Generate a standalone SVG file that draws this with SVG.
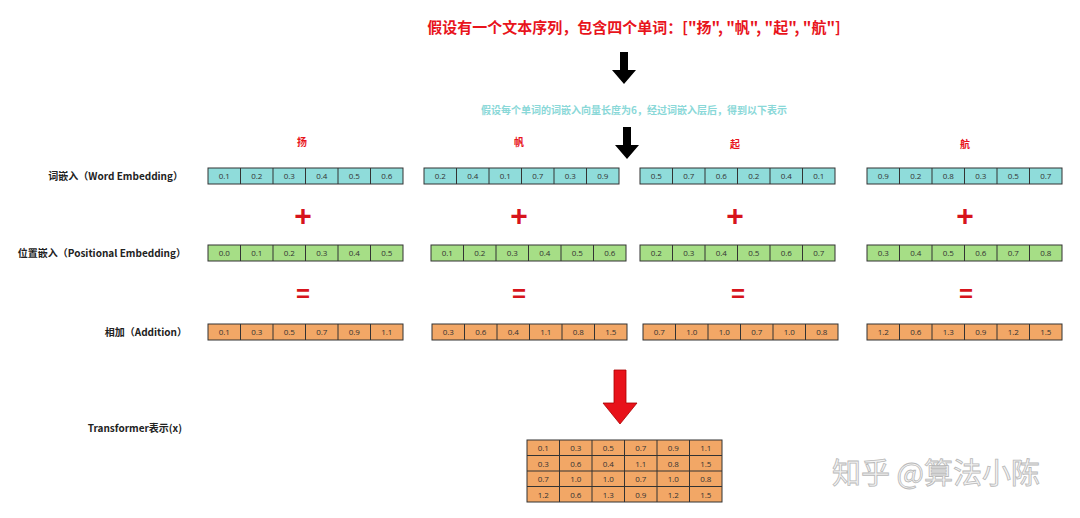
<svg xmlns="http://www.w3.org/2000/svg" width="1080" height="518" viewBox="0 0 1080 518">
<style>
.c{stroke:#333;stroke-width:1}
.b{fill:#8fdcda}.g{fill:#a6de86}.o{fill:#f2a766}
.v{font-family:"Open Sans","Noto Sans",sans-serif;font-size:8px;fill:#333;text-anchor:middle}
.lab{font-family:"Noto Sans CJK SC",sans-serif;font-size:10px;font-weight:bold;fill:#222;text-anchor:end}
.w{font-family:"Noto Sans CJK SC",sans-serif;font-size:10px;font-weight:bold;fill:#e8141c;text-anchor:middle}
.op{font-family:"Liberation Sans",sans-serif;font-weight:bold;fill:#d7141c;text-anchor:middle}
</style>
<defs>
<g id="grid"><path class="c" d="M32.5 0V16M65 0V16M97.5 0V16M130 0V16M162.5 0V16" fill="none"/></g>
</defs>
<rect width="1080" height="518" fill="#fff"/>
<text x="634" y="33" font-family="Noto Sans CJK SC,sans-serif" font-size="15" font-weight="bold" fill="#e8141c" text-anchor="middle">假设有一个文本序列，包含四个单词：["扬", "帆", "起", "航"]</text>
<text x="634" y="114" font-family="Noto Sans CJK SC,sans-serif" font-size="10" font-weight="bold" fill="#8ad8d8" text-anchor="middle">假设每个单词的词嵌入向量长度为6，经过词嵌入层后，得到以下表示</text>
<g id="connectors">
<path d="M620 52h8v18h8l-12 14l-12-14h8z" fill="#000"/>
<path d="M623 127h8v18h8l-12 14l-12-14h8z" fill="#000"/>
<path d="M614 370h12v33h11l-17 21l-17-21h11z" fill="#e8121a" stroke="#a00" stroke-width="0.8"/>
</g>
<g id="labels">
<text class="lab" x="183" y="180">词嵌入（Word Embedding）</text>
<text class="lab" x="186" y="257">位置嵌入（Positional Embedding）</text>
<text class="lab" x="187" y="336">相加（Addition）</text>
<text class="lab" x="182" y="432">Transformer表示(x)</text>
<text class="w" x="302" y="146">扬</text>
<text class="w" x="519" y="146">帆</text>
<text class="w" x="735" y="148">起</text>
<text class="w" x="965" y="148">航</text>
</g>
<g id="ops">
<g class="op" font-size="30"><text x="303" y="226">+</text><text x="519" y="226">+</text><text x="735" y="226">+</text><text x="965" y="226">+</text></g>
<g class="op" font-size="24"><text x="303" y="302">=</text><text x="519" y="302">=</text><text x="738" y="302">=</text><text x="966" y="302">=</text></g>
</g>
<g id="word-embedding">
<g transform="translate(208,168)"><rect class="c b" width="195" height="16"/><use href="#grid"/><g class="v"><text x="16.25" y="11">0.1</text><text x="48.75" y="11">0.2</text><text x="81.25" y="11">0.3</text><text x="113.75" y="11">0.4</text><text x="146.25" y="11">0.5</text><text x="178.75" y="11">0.6</text></g></g>
<g transform="translate(424,168)"><rect class="c b" width="195" height="16"/><use href="#grid"/><g class="v"><text x="16.25" y="11">0.2</text><text x="48.75" y="11">0.4</text><text x="81.25" y="11">0.1</text><text x="113.75" y="11">0.7</text><text x="146.25" y="11">0.3</text><text x="178.75" y="11">0.9</text></g></g>
<g transform="translate(640,168)"><rect class="c b" width="195" height="16"/><use href="#grid"/><g class="v"><text x="16.25" y="11">0.5</text><text x="48.75" y="11">0.7</text><text x="81.25" y="11">0.6</text><text x="113.75" y="11">0.2</text><text x="146.25" y="11">0.4</text><text x="178.75" y="11">0.1</text></g></g>
<g transform="translate(867,168)"><rect class="c b" width="195" height="16"/><use href="#grid"/><g class="v"><text x="16.25" y="11">0.9</text><text x="48.75" y="11">0.2</text><text x="81.25" y="11">0.8</text><text x="113.75" y="11">0.3</text><text x="146.25" y="11">0.5</text><text x="178.75" y="11">0.7</text></g></g>
</g>
<g id="positional-embedding">
<g transform="translate(208,245)"><rect class="c g" width="195" height="16"/><use href="#grid"/><g class="v"><text x="16.25" y="11">0.0</text><text x="48.75" y="11">0.1</text><text x="81.25" y="11">0.2</text><text x="113.75" y="11">0.3</text><text x="146.25" y="11">0.4</text><text x="178.75" y="11">0.5</text></g></g>
<g transform="translate(431,245)"><rect class="c g" width="195" height="16"/><use href="#grid"/><g class="v"><text x="16.25" y="11">0.1</text><text x="48.75" y="11">0.2</text><text x="81.25" y="11">0.3</text><text x="113.75" y="11">0.4</text><text x="146.25" y="11">0.5</text><text x="178.75" y="11">0.6</text></g></g>
<g transform="translate(640,245)"><rect class="c g" width="195" height="16"/><use href="#grid"/><g class="v"><text x="16.25" y="11">0.2</text><text x="48.75" y="11">0.3</text><text x="81.25" y="11">0.4</text><text x="113.75" y="11">0.5</text><text x="146.25" y="11">0.6</text><text x="178.75" y="11">0.7</text></g></g>
<g transform="translate(867,245)"><rect class="c g" width="195" height="16"/><use href="#grid"/><g class="v"><text x="16.25" y="11">0.3</text><text x="48.75" y="11">0.4</text><text x="81.25" y="11">0.5</text><text x="113.75" y="11">0.6</text><text x="146.25" y="11">0.7</text><text x="178.75" y="11">0.8</text></g></g>
</g>
<g id="addition">
<g transform="translate(208,324)"><rect class="c o" width="195" height="16"/><use href="#grid"/><g class="v"><text x="16.25" y="11">0.1</text><text x="48.75" y="11">0.3</text><text x="81.25" y="11">0.5</text><text x="113.75" y="11">0.7</text><text x="146.25" y="11">0.9</text><text x="178.75" y="11">1.1</text></g></g>
<g transform="translate(432,324)"><rect class="c o" width="195" height="16"/><use href="#grid"/><g class="v"><text x="16.25" y="11">0.3</text><text x="48.75" y="11">0.6</text><text x="81.25" y="11">0.4</text><text x="113.75" y="11">1.1</text><text x="146.25" y="11">0.8</text><text x="178.75" y="11">1.5</text></g></g>
<g transform="translate(643,324)"><rect class="c o" width="195" height="16"/><use href="#grid"/><g class="v"><text x="16.25" y="11">0.7</text><text x="48.75" y="11">1.0</text><text x="81.25" y="11">1.0</text><text x="113.75" y="11">0.7</text><text x="146.25" y="11">1.0</text><text x="178.75" y="11">0.8</text></g></g>
<g transform="translate(867,324)"><rect class="c o" width="195" height="16"/><use href="#grid"/><g class="v"><text x="16.25" y="11">1.2</text><text x="48.75" y="11">0.6</text><text x="81.25" y="11">1.3</text><text x="113.75" y="11">0.9</text><text x="146.25" y="11">1.2</text><text x="178.75" y="11">1.5</text></g></g>
</g>
<g id="matrix" transform="translate(527,440)">
<rect class="c o" width="195" height="62" stroke-width="1.2"/>
<path class="c" d="M32.5 0V62M65 0V62M97.5 0V62M130 0V62M162.5 0V62M0 15.5H195M0 31H195M0 46.5H195" fill="none"/>
<g class="v">
<text x="16.25" y="11">0.1</text><text x="48.75" y="11">0.3</text><text x="81.25" y="11">0.5</text><text x="113.75" y="11">0.7</text><text x="146.25" y="11">0.9</text><text x="178.75" y="11">1.1</text>
<text x="16.25" y="26.5">0.3</text><text x="48.75" y="26.5">0.6</text><text x="81.25" y="26.5">0.4</text><text x="113.75" y="26.5">1.1</text><text x="146.25" y="26.5">0.8</text><text x="178.75" y="26.5">1.5</text>
<text x="16.25" y="42">0.7</text><text x="48.75" y="42">1.0</text><text x="81.25" y="42">1.0</text><text x="113.75" y="42">0.7</text><text x="146.25" y="42">1.0</text><text x="178.75" y="42">0.8</text>
<text x="16.25" y="57.5">1.2</text><text x="48.75" y="57.5">0.6</text><text x="81.25" y="57.5">1.3</text><text x="113.75" y="57.5">0.9</text><text x="146.25" y="57.5">1.2</text><text x="178.75" y="57.5">1.5</text>
</g>
</g>
<text x="936" y="484" font-family="Noto Sans CJK SC,sans-serif" font-size="29" fill="#f4f4f4" stroke="#b8b8b8" stroke-width="0.8" text-anchor="middle">知乎 @算法小陈</text>
</svg>
